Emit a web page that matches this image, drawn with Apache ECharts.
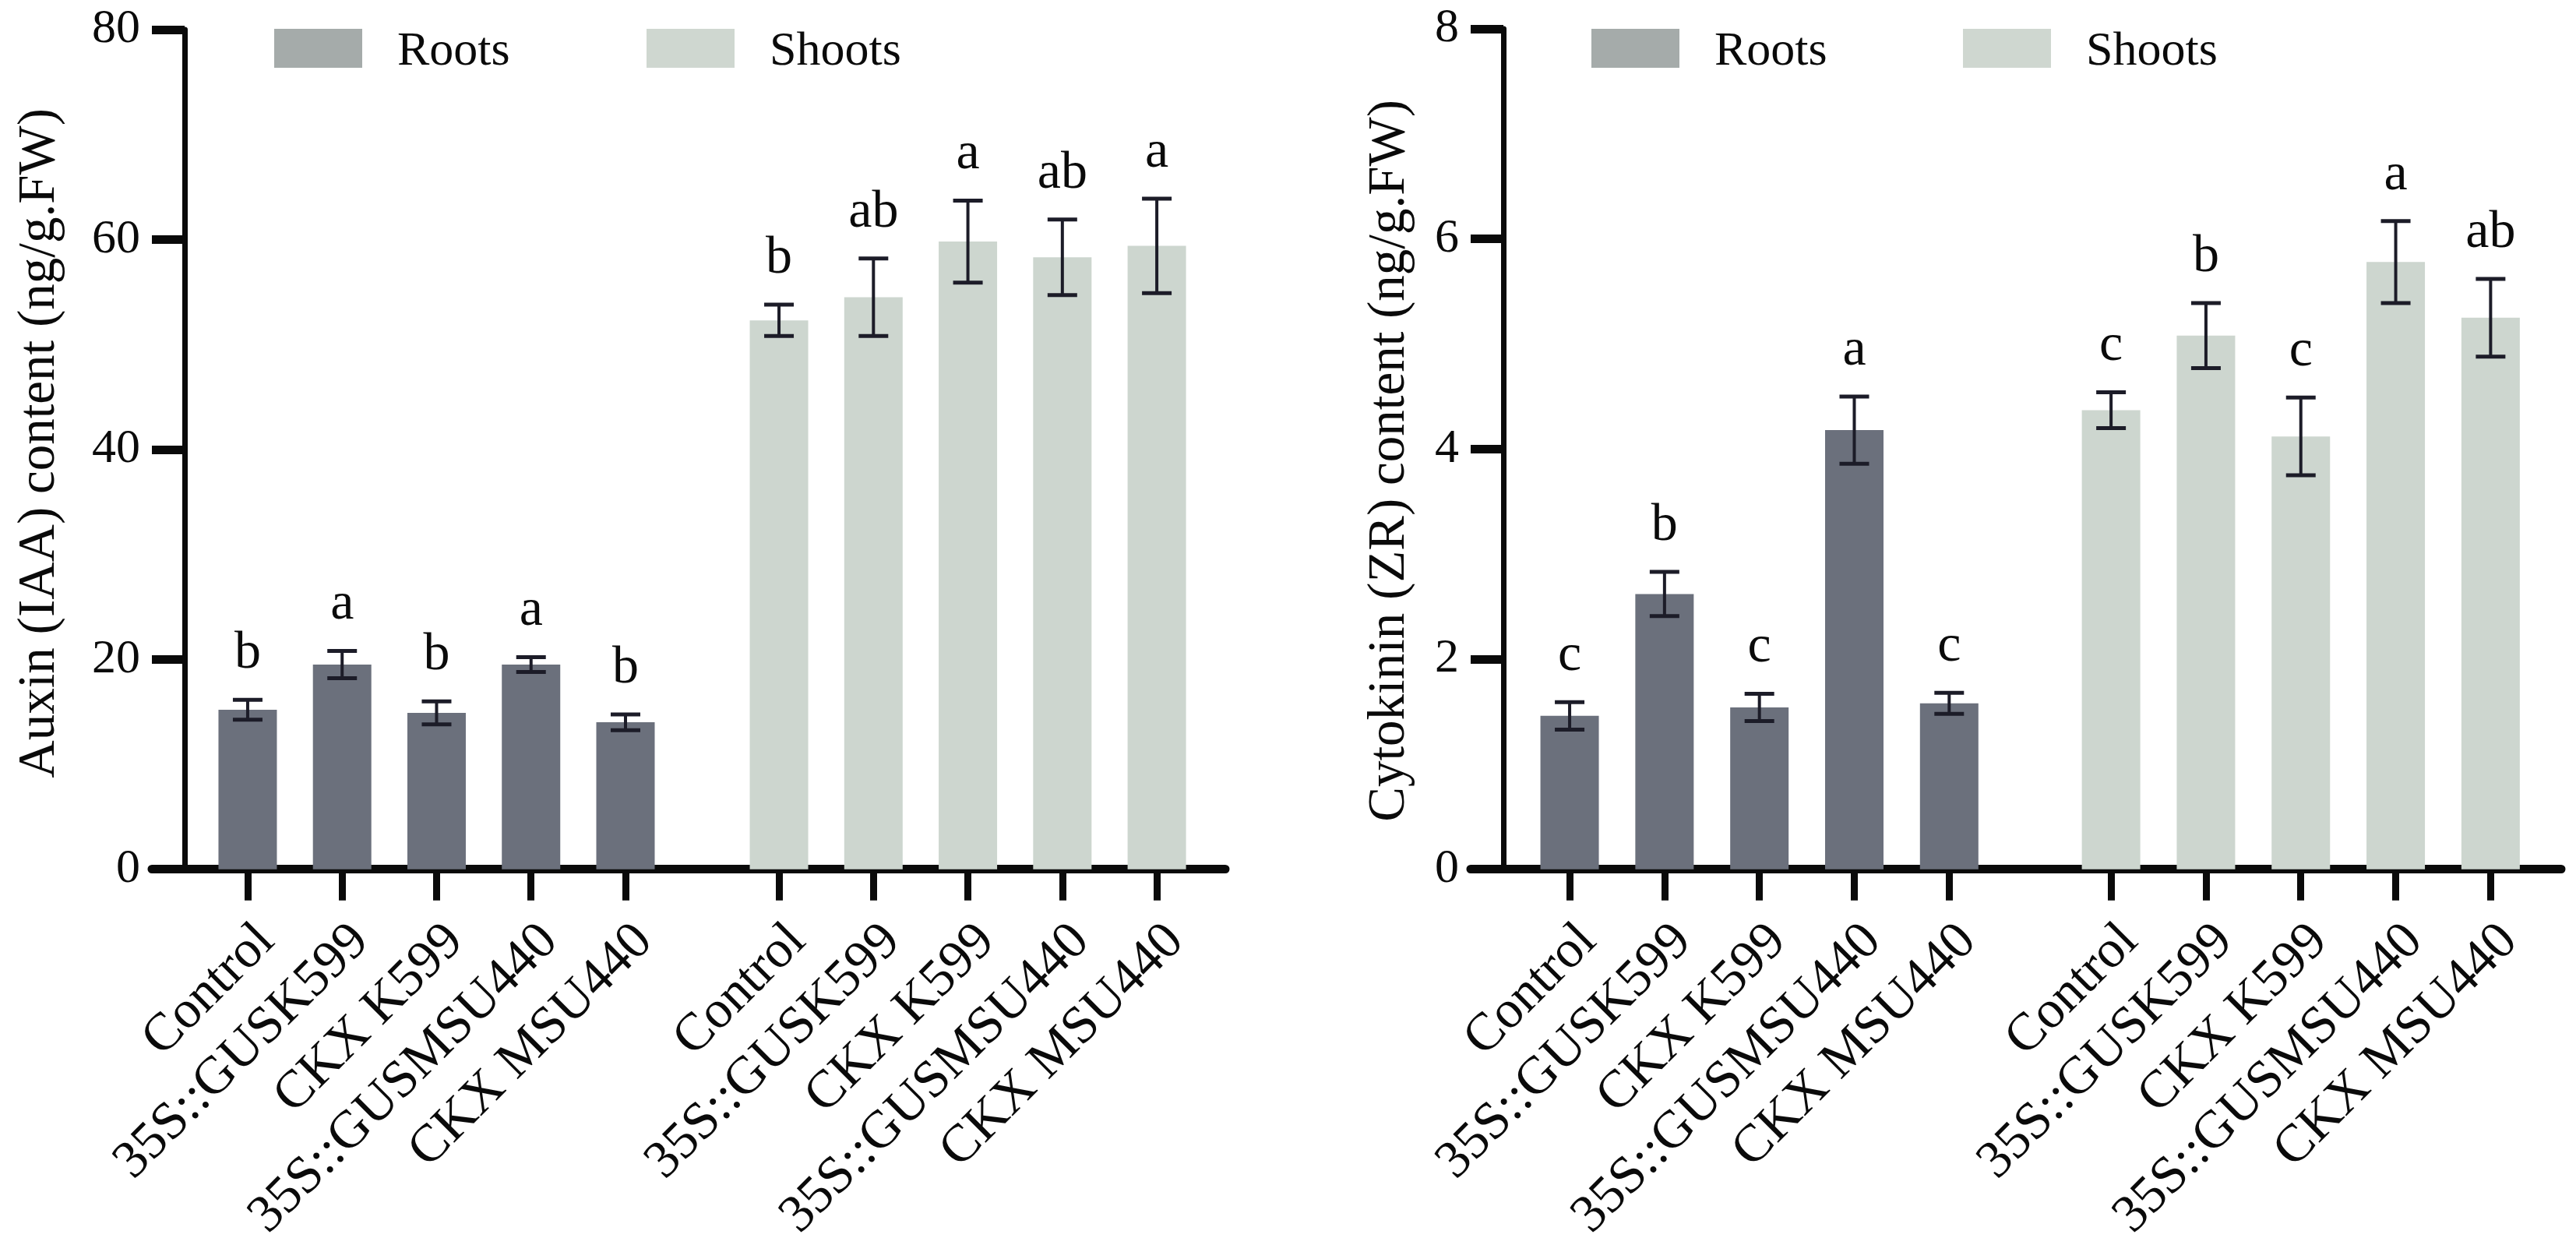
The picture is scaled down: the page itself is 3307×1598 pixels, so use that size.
<!DOCTYPE html>
<html>
<head>
<meta charset="utf-8">
<script src="https://cdn.jsdelivr.net/npm/echarts@6/dist/echarts.min.js"></script>
<style>
  html, body { margin: 0; padding: 0; background: #fff; }
  #main { width: 3307px; height: 1598px; }
</style>
</head>
<body>
<div id="main"></div>
<script>
(function() {
    "use strict";

    /*---- data ----*/
    var lines = ['Control', '35S::GUSK599', 'CKX K599', '35S::GUSMSU440', 'CKX MSU440'];

    var auxinRoots = [15.2, 19.5, 14.9, 19.5, 14.0];
    var auxinRootsErr = [0.95, 1.3, 1.1, 0.7, 0.75];
    var auxinRootsSig = ['b', 'a', 'b', 'a', 'b'];
    var auxinShoots = [52.3, 54.5, 59.8, 58.3, 59.4];
    var auxinShootsErr = [1.5, 3.7, 3.9, 3.6, 4.5];
    var auxinShootsSig = ['b', 'ab', 'a', 'ab', 'a'];

    var ckRoots = [1.46, 2.62, 1.54, 4.18, 1.58];
    var ckRootsErr = [0.13, 0.21, 0.13, 0.32, 0.1];
    var ckRootsSig = ['c', 'b', 'c', 'a', 'c'];
    var ckShoots = [4.37, 5.08, 4.12, 5.78, 5.25];
    var ckShootsErr = [0.17, 0.31, 0.37, 0.39, 0.37];
    var ckShootsSig = ['c', 'b', 'c', 'a', 'ab'];

    var auxinTicks = [0, 20, 40, 60, 80];
    var ckTicks = [0, 2, 4, 6, 8];

    /*---- style ----*/
    var FONT = '"Liberation Serif", "Times New Roman", serif';
    var INK = '#0a0a0a';
    var BAR_ERR = '#1c1c28';
    var ROOT_COL = '#6b707c';
    var SHOOT_COL = '#cdd6cf';
    var ROOT_KEY = '#a5abaa';
    var SHOOT_KEY = '#cfd7d0';

    // bar slot positions on the x axis (slot units), shoots group shifted by a gap
    function slots(n, shift) {
        var out = [];
        for (var i = 0; i < n; i++) out.push(i + shift);
        return out;
    }

    function xAxisFor(gridIndex, pos, min, max) {
        return {
            type: 'value',
            gridIndex: gridIndex,
            min: min,
            max: max,
            splitLine: { show: false },
            axisLine: { onZero: false, lineStyle: { color: INK, width: 11 } },
            axisTick: { show: true, length: 40, customValues: pos,
                lineStyle: { color: INK, width: 9 } },
            axisLabel: {
                show: true,
                customValues: pos,
                rotate: 45,
                margin: 58,
                verticalAlign: 'top',
                fontSize: 68,
                fontFamily: FONT,
                color: INK,
                formatter: function(v) {
                    for (var i = 0; i < pos.length; i++) {
                        if (Math.abs(pos[i] - v) < 1e-6) return lines[i % lines.length];
                    }
                    return '';
                }
            }
        };
    }

    function yAxisFor(gridIndex, ticks, name, gap, namePad) {
        return {
            type: 'value',
            gridIndex: gridIndex,
            min: ticks[0],
            max: ticks[ticks.length - 1],
            interval: ticks[1] - ticks[0],
            offset: -42,
            name: name,
            nameLocation: 'middle',
            nameGap: gap,
            nameTextStyle: { fontSize: 67, fontFamily: FONT, color: INK, padding: namePad },
            splitLine: { show: false },
            axisLine: { show: true, onZero: false, lineStyle: { color: INK, width: 7 } },
            axisTick: { show: true, length: 42, lineStyle: { color: INK, width: 11 } },
            axisLabel: { fontSize: 62, fontFamily: FONT, color: INK, margin: 57 }
        };
    }

    function barSeries(name, idx, xs, ys, color) {
        return {
            name: name,
            type: 'bar',
            xAxisIndex: idx,
            yAxisIndex: idx,
            barWidth: 75,
            barGap: '-100%',
            itemStyle: { color: color },
            data: xs.map(function(x, i) { return [x, ys[i]]; })
        };
    }

    function errSeries(idx, xs, ys, errs, sig) {
        return {
            type: 'custom',
            xAxisIndex: idx,
            yAxisIndex: idx,
            z: 5,
            silent: true,
            data: xs.map(function(x, i) { return [x, ys[i], errs[i]]; }),
            renderItem: function(params, api) {
                var x = api.value(0), m = api.value(1), e = api.value(2);
                var top = api.coord([x, m + e]);
                var bot = api.coord([x, m - e]);
                var half = 19;
                var st = { stroke: BAR_ERR, lineWidth: 5 };
                return {
                    type: 'group',
                    children: [
                        { type: 'line', shape: { x1: top[0], y1: top[1], x2: bot[0], y2: bot[1] },
                          style: { stroke: BAR_ERR, lineWidth: 4 } },
                        { type: 'line', shape: { x1: top[0] - half, y1: top[1], x2: top[0] + half, y2: top[1] }, style: st },
                        { type: 'line', shape: { x1: bot[0] - half, y1: bot[1], x2: bot[0] + half, y2: bot[1] }, style: st },
                        { type: 'text', x: top[0], y: top[1] - 59,
                          style: { text: sig[params.dataIndex], fontSize: 68, fontFamily: FONT,
                                   fill: INK, align: 'center', verticalAlign: 'middle' } }
                    ]
                };
            }
        };
    }

    function keyLegend(name, color, left) {
        return {
            left: left,
            top: 36,
            padding: 0,
            itemWidth: 113,
            itemHeight: 50,
            icon: 'rect',
            selectedMode: false,
            data: [{ name: name, itemStyle: { color: color } }],
            formatter: '{t|{name}}',
            textStyle: {
                rich: {
                    t: { fontSize: 62, fontFamily: FONT, color: INK, padding: [10, 0, 0, 40] }
                }
            }
        };
    }

    var posRootsL = slots(5, 0), posShootsL = slots(5, 5.625);
    var posRootsR = slots(5, 0), posShootsR = slots(5, 5.706);

    var chart = echarts.init(document.getElementById('main'), null, { renderer: 'canvas' });
    var option = {
        backgroundColor: '#ffffff',
        animation: false,
        grid: [
            { left: 195, top: 38, width: 1378, height: 1090 },
            { left: 1888, top: 37, width: 1400, height: 1091 }
        ],
        legend: [
            keyLegend('Roots', ROOT_KEY, 352),
            keyLegend('Shoots', SHOOT_KEY, 830),
            keyLegend('Roots', ROOT_KEY, 2043),
            keyLegend('Shoots', SHOOT_KEY, 2520)
        ],
        xAxis: [
            xAxisFor(0, posRootsL.concat(posShootsL), -1.014, 10.35),
            xAxisFor(1, posRootsR.concat(posShootsR), -1.043, 10.45)
        ],
        yAxis: [
            yAxisFor(0, auxinTicks, 'Auxin (IAA) content (ng/g.FW)', 152, [0, 0, 0, 16]),
            yAxisFor(1, ckTicks, 'Cytokinin (ZR) content (ng/g.FW)', 112, [0, 30, 0, 0])
        ],
        series: [
            barSeries('Roots', 0, posRootsL, auxinRoots, ROOT_COL),
            barSeries('Shoots', 0, posShootsL, auxinShoots, SHOOT_COL),
            errSeries(0, posRootsL, auxinRoots, auxinRootsErr, auxinRootsSig),
            errSeries(0, posShootsL, auxinShoots, auxinShootsErr, auxinShootsSig),
            barSeries('Roots', 1, posRootsR, ckRoots, ROOT_COL),
            barSeries('Shoots', 1, posShootsR, ckShoots, SHOOT_COL),
            errSeries(1, posRootsR, ckRoots, ckRootsErr, ckRootsSig),
            errSeries(1, posShootsR, ckShoots, ckShootsErr, ckShootsSig)
        ]
    };
    chart.setOption(option);
})();
</script>
</body>
</html>
